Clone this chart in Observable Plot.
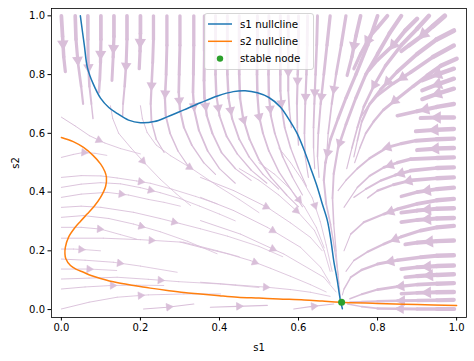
<!DOCTYPE html>
<html><head><meta charset="utf-8">
<script src="https://cdn.jsdelivr.net/npm/d3@7"></script>
<script src="https://cdn.jsdelivr.net/npm/@observablehq/plot@0.6"></script>
<style>body{margin:0;background:#fff;font-family:"DejaVu Sans",sans-serif}</style>
</head><body><div id="chart"></div>
<script>
// ---------- data ----------
const xTicks = [0, 0.2, 0.4, 0.6, 0.8, 1.0];
const yTicks = [0, 0.2, 0.4, 0.6, 0.8, 1.0];
const legendLabels = ["s1 nullcline", "s2 nullcline", "stable node"];

const s1Nullcline = [[0.048,1.0],[0.058,0.90],[0.066,0.823],[0.08,0.77],[0.099,0.72],[0.12,0.688],[0.142,0.667],[0.17,0.645],[0.2,0.636],[0.235,0.64],[0.268,0.656],[0.31,0.68],[0.352,0.704],[0.395,0.727],[0.435,0.742],[0.465,0.745],[0.496,0.738],[0.525,0.722],[0.554,0.69],[0.58,0.638],[0.597,0.598],[0.615,0.54],[0.630,0.484],[0.648,0.415],[0.66,0.36],[0.673,0.303],[0.682,0.235],[0.689,0.167],[0.698,0.10],[0.706,0.031],[0.711,0.003]];

const s2Nullcline = [[0,0.586],[0.03,0.572],[0.056,0.552],[0.08,0.525],[0.099,0.496],[0.11,0.47],[0.114,0.45],[0.112,0.42],[0.099,0.382],[0.082,0.35],[0.065,0.325],[0.048,0.3],[0.035,0.28],[0.018,0.246],[0.01,0.212],[0.009,0.19],[0.011,0.174],[0.023,0.15],[0.038,0.137],[0.056,0.127],[0.075,0.116],[0.099,0.106],[0.14,0.092],[0.183,0.082],[0.225,0.073],[0.268,0.065],[0.31,0.058],[0.352,0.053],[0.4,0.047],[0.446,0.042],[0.5,0.039],[0.55,0.036],[0.614,0.033],[0.66,0.029],[0.706,0.025],[0.8,0.021],[0.9,0.017],[1.0,0.014]];

const stableNode = [[0.709, 0.025]];

// streamlines: points in flow order, speed at start/end
const topLines = [
 {pts:[[0.0,1.0],[0.003,0.93],[0.006,0.86],[0.01,0.81]], speed:[5,4]},
 {pts:[[0.035,1.0],[0.037,0.92],[0.042,0.84],[0.05,0.76],[0.055,0.70]], speed:[5,2.5]},
 {pts:[[0.067,1.0],[0.067,0.92],[0.068,0.84],[0.071,0.76],[0.076,0.70],[0.08,0.65]], speed:[5,1.5]},
 {pts:[[0.1,1.0],[0.1,0.92],[0.099,0.84],[0.097,0.78],[0.095,0.74]], speed:[5,3]},
 {pts:[[0.133,1.0],[0.133,0.93],[0.131,0.86],[0.128,0.78]], speed:[5,3.5]},
 {pts:[[0.166,1.0],[0.166,0.92],[0.164,0.84],[0.16,0.76],[0.156,0.70],[0.155,0.66]], speed:[5,1.5]},
 {pts:[[0.2,1.0],[0.2,0.94],[0.199,0.88],[0.197,0.82]], speed:[5,4]},
 {pts:[[0.233,1.0],[0.233,0.92],[0.231,0.84],[0.228,0.76],[0.226,0.70],[0.228,0.64],[0.24,0.58],[0.26,0.535]], speed:[4.5,1.2]},
 {pts:[[0.267,1.0],[0.267,0.9],[0.265,0.8],[0.262,0.72],[0.264,0.66],[0.275,0.6],[0.295,0.54],[0.32,0.49]], speed:[4.5,1.2]},
 {pts:[[0.3,1.0],[0.3,0.9],[0.298,0.8],[0.297,0.74],[0.3,0.68],[0.31,0.62],[0.33,0.56],[0.36,0.50],[0.39,0.46]], speed:[4.5,1.2]},
 {pts:[[0.335,1.0],[0.335,0.9],[0.334,0.8],[0.333,0.74],[0.336,0.68],[0.348,0.61],[0.37,0.54],[0.40,0.48],[0.44,0.43]], speed:[4.5,1.2]},
 {pts:[[0.362,1.0],[0.362,0.88],[0.361,0.78],[0.362,0.72],[0.368,0.66],[0.382,0.6],[0.405,0.535],[0.44,0.48],[0.48,0.44]], speed:[4.5,1.2]},
 {pts:[[0.39,1.0],[0.39,0.9],[0.39,0.8],[0.392,0.73],[0.4,0.66],[0.418,0.59],[0.445,0.53],[0.48,0.475],[0.52,0.43]], speed:[4,1.2]},
 {pts:[[0.42,1.0],[0.42,0.9],[0.42,0.8],[0.423,0.72],[0.432,0.65],[0.45,0.58],[0.475,0.52],[0.51,0.46],[0.55,0.41]], speed:[4,1.2]},
 {pts:[[0.45,1.0],[0.45,0.9],[0.45,0.8],[0.452,0.72],[0.46,0.65],[0.476,0.58],[0.5,0.51],[0.53,0.45],[0.57,0.39],[0.6,0.35]], speed:[4,1.2]},
 {pts:[[0.496,1.0],[0.496,0.9],[0.495,0.8],[0.496,0.73],[0.5,0.66],[0.51,0.6],[0.525,0.54],[0.55,0.47],[0.58,0.41],[0.61,0.35]], speed:[4,1.2]},
 {pts:[[0.525,1.0],[0.525,0.9],[0.524,0.8],[0.525,0.73],[0.53,0.66],[0.54,0.6],[0.56,0.52],[0.585,0.45],[0.61,0.39]], speed:[4,1.2]},
 {pts:[[0.554,1.0],[0.554,0.9],[0.554,0.8],[0.554,0.745],[0.558,0.68],[0.565,0.62],[0.58,0.55],[0.6,0.48],[0.62,0.42]], speed:[4,1.2]},
 {pts:[[0.574,1.0],[0.574,0.9],[0.574,0.8],[0.574,0.745],[0.577,0.68],[0.582,0.62]], speed:[4,1.5]},
 {pts:[[0.6,1.0],[0.6,0.9],[0.598,0.8],[0.596,0.7],[0.597,0.62],[0.6,0.56]], speed:[4,1.5]},
 {pts:[[0.623,1.0],[0.622,0.9],[0.62,0.8],[0.617,0.7],[0.615,0.6],[0.617,0.52],[0.625,0.45]], speed:[4,1.2]},
 {pts:[[0.648,1.0],[0.646,0.9],[0.643,0.8],[0.64,0.7],[0.638,0.62],[0.638,0.55],[0.641,0.48]], speed:[4,1.2]}
];

const upperRightLines = [
 {pts:[[0.68,1.0],[0.672,0.9],[0.664,0.8],[0.656,0.7],[0.65,0.6],[0.648,0.52],[0.652,0.45]], speed:[4.5,1.2]},
 {pts:[[0.72,1.0],[0.708,0.9],[0.695,0.8],[0.684,0.7],[0.675,0.6],[0.67,0.5]], speed:[4.5,1.2]},
 {pts:[[0.757,1.0],[0.745,0.93],[0.735,0.86],[0.723,0.797]], speed:[5,4]},
 {pts:[[0.8,1.0],[0.775,0.9],[0.745,0.8],[0.72,0.72],[0.7,0.65],[0.681,0.58],[0.668,0.5],[0.664,0.44],[0.67,0.36],[0.681,0.29],[0.692,0.2],[0.7,0.12],[0.706,0.042]], speed:[5,1]},
 {pts:[[0.825,1.0],[0.8,0.96],[0.782,0.933],[0.757,0.87],[0.74,0.82]], speed:[5,4]},
 {pts:[[0.86,1.0],[0.83,0.94],[0.8,0.87],[0.77,0.8],[0.745,0.72],[0.72,0.63],[0.7,0.55],[0.689,0.462],[0.686,0.38],[0.689,0.292],[0.695,0.2],[0.702,0.088]], speed:[5.5,1]},
 {pts:[[0.9,0.99],[0.87,0.95],[0.84,0.9],[0.8,0.85],[0.778,0.815]], speed:[6,4]},
 {pts:[[0.93,1.0],[0.9,0.956],[0.86,0.9],[0.82,0.83],[0.79,0.76],[0.765,0.69],[0.749,0.62],[0.735,0.55],[0.722,0.48]], speed:[6,1.2]},
 {pts:[[0.97,1.0],[0.94,0.965],[0.91,0.93],[0.88,0.9],[0.86,0.88]], speed:[6.5,5]},
 {pts:[[0.993,0.95],[0.95,0.92],[0.9,0.87],[0.85,0.81],[0.808,0.75],[0.78,0.7],[0.76,0.64],[0.749,0.575],[0.74,0.52]], speed:[6.5,1.2]},
 {pts:[[0.993,0.899],[0.94,0.86],[0.884,0.808],[0.84,0.77],[0.8,0.729],[0.775,0.69],[0.755,0.65]], speed:[6,1.8]},
 {pts:[[1.0,0.854],[0.96,0.83],[0.926,0.797],[0.89,0.76],[0.85,0.718],[0.815,0.68],[0.79,0.64],[0.77,0.6],[0.755,0.55],[0.742,0.5]], speed:[6,1.2]}
];

const rightLines = [
 {pts:[[0.993,0.82],[0.95,0.80],[0.913,0.78]], speed:[6,5]},
 {pts:[[0.993,0.786],[0.95,0.766],[0.913,0.746]], speed:[6,5]},
 {pts:[[0.993,0.752],[0.95,0.734],[0.913,0.716]], speed:[6,5]},
 {pts:[[0.993,0.70],[0.95,0.69],[0.9,0.675],[0.85,0.66]], speed:[6,4.5]},
 {pts:[[0.993,0.654],[0.95,0.654],[0.909,0.652]], speed:[6,5]},
 {pts:[[0.993,0.615],[0.95,0.612],[0.897,0.607]], speed:[6,5]},
 {pts:[[0.993,0.582],[0.95,0.58],[0.897,0.575],[0.86,0.565],[0.825,0.552],[0.78,0.515],[0.749,0.48],[0.72,0.44],[0.7,0.405]], speed:[6,1]},
 {pts:[[0.993,0.55],[0.95,0.548],[0.9,0.543]], speed:[6,5]},
 {pts:[[0.993,0.518],[0.95,0.516],[0.884,0.512],[0.85,0.5],[0.816,0.484],[0.78,0.455],[0.749,0.416],[0.715,0.348]], speed:[6,1]},
 {pts:[[0.993,0.484],[0.95,0.482],[0.884,0.473],[0.845,0.458],[0.808,0.439],[0.77,0.41],[0.74,0.382]], speed:[6,1.2]},
 {pts:[[0.993,0.45],[0.95,0.447],[0.884,0.44],[0.84,0.425],[0.8,0.405],[0.775,0.38]], speed:[6,1.5]},
 {pts:[[0.993,0.415],[0.95,0.41],[0.9,0.4],[0.86,0.385]], speed:[6,4]},
 {pts:[[0.993,0.377],[0.95,0.372],[0.9,0.36],[0.85,0.342],[0.816,0.325],[0.765,0.297],[0.732,0.257],[0.715,0.2]], speed:[6,1]},
 {pts:[[0.993,0.345],[0.95,0.343],[0.9,0.337],[0.86,0.33]], speed:[6,4.5]},
 {pts:[[0.993,0.312],[0.95,0.31],[0.9,0.305],[0.86,0.298]], speed:[6,4.5]},
 {pts:[[0.993,0.285],[0.95,0.28],[0.909,0.269],[0.86,0.248],[0.816,0.223],[0.775,0.197],[0.74,0.167],[0.72,0.13]], speed:[6,1]},
 {pts:[[0.993,0.235],[0.95,0.233],[0.9,0.228],[0.87,0.222]], speed:[6,4.5]},
 {pts:[[0.993,0.185],[0.95,0.183],[0.909,0.178],[0.85,0.168],[0.8,0.155],[0.76,0.135],[0.732,0.11],[0.715,0.07],[0.711,0.05]], speed:[6,1]},
 {pts:[[0.993,0.15],[0.95,0.148],[0.9,0.144],[0.86,0.138]], speed:[6,4.5]},
 {pts:[[0.993,0.12],[0.95,0.118],[0.9,0.114],[0.87,0.11]], speed:[6,4.5]},
 {pts:[[0.993,0.09],[0.95,0.088],[0.9,0.085],[0.85,0.078],[0.8,0.068],[0.76,0.052],[0.73,0.037]], speed:[6,1.5]},
 {pts:[[0.993,0.06],[0.95,0.059],[0.9,0.057],[0.86,0.054]], speed:[6,4]},
 {pts:[[0.993,0.033],[0.95,0.032],[0.9,0.031],[0.85,0.03],[0.8,0.028],[0.76,0.027],[0.73,0.026]], speed:[5.5,1.5]},
 {pts:[[0.994,0.002],[0.95,0.002],[0.9,0.002],[0.85,0.003],[0.8,0.004],[0.76,0.01],[0.724,0.019]], speed:[5.5,1.5]}
];

const centerLines = [
 {pts:[[0.124,0.694],[0.13,0.65],[0.145,0.6],[0.175,0.552],[0.21,0.5],[0.25,0.444],[0.29,0.395],[0.327,0.354]], speed:[1.2,1]},
 {pts:[[0.2,0.694],[0.205,0.65],[0.217,0.603],[0.24,0.56],[0.276,0.524],[0.33,0.48],[0.394,0.422],[0.45,0.375],[0.5,0.33]], speed:[1.2,1]},
 {pts:[[0.352,0.45],[0.436,0.405],[0.521,0.348],[0.58,0.295],[0.63,0.246],[0.66,0.2]], speed:[1.2,1]},
 {pts:[[0.352,0.382],[0.436,0.337],[0.521,0.28],[0.605,0.212],[0.656,0.144],[0.68,0.09]], speed:[1.2,1]},
 {pts:[[0.352,0.303],[0.453,0.257],[0.563,0.189],[0.664,0.11],[0.695,0.06]], speed:[1.2,1]},
 {pts:[[0.3,0.23],[0.352,0.212],[0.42,0.19],[0.478,0.167],[0.53,0.14],[0.58,0.113],[0.63,0.085],[0.67,0.06]], speed:[1.2,1]},
 {pts:[[0.352,0.093],[0.44,0.084],[0.521,0.076],[0.58,0.068],[0.63,0.059],[0.68,0.045]], speed:[1.2,1]},
 {pts:[[0.45,0.48],[0.5,0.44],[0.55,0.39],[0.6,0.33],[0.64,0.27],[0.665,0.2],[0.68,0.13]], speed:[1.2,1]},
 {pts:[[0.5,0.50],[0.54,0.46],[0.58,0.41],[0.615,0.35],[0.645,0.28],[0.665,0.21]], speed:[1.2,1]},
 {pts:[[0.55,0.55],[0.58,0.5],[0.61,0.44],[0.635,0.38],[0.655,0.3],[0.67,0.22],[0.685,0.13]], speed:[1.2,1]}
];

const leftLines = [
 {pts:[[0,0.655],[0.035,0.625],[0.071,0.592],[0.11,0.567],[0.15,0.548],[0.2,0.53]], speed:[1.3,1]},
 {pts:[[0,0.518],[0.03,0.528],[0.056,0.535],[0.085,0.532],[0.115,0.525]], speed:[1.2,1]},
 {pts:[[0,0.45],[0.05,0.456],[0.1,0.455],[0.141,0.448],[0.19,0.438],[0.225,0.43],[0.28,0.41],[0.34,0.385],[0.394,0.36]], speed:[1.2,1]},
 {pts:[[0,0.416],[0.05,0.427],[0.1,0.432],[0.15,0.428],[0.2,0.415],[0.25,0.398],[0.3,0.378],[0.35,0.352],[0.4,0.325],[0.44,0.302]], speed:[1.2,1]},
 {pts:[[0,0.382],[0.05,0.393],[0.116,0.399],[0.17,0.39],[0.22,0.375],[0.26,0.365],[0.301,0.352]], speed:[1.2,1]},
 {pts:[[0,0.348],[0.05,0.352],[0.1,0.348],[0.183,0.331],[0.25,0.31],[0.3,0.293],[0.352,0.275],[0.42,0.25],[0.5,0.215],[0.56,0.18]], speed:[1.2,1]},
 {pts:[[0,0.314],[0.056,0.32],[0.12,0.31],[0.183,0.291],[0.25,0.265],[0.32,0.232],[0.394,0.19]], speed:[1.2,1]},
 {pts:[[0,0.28],[0.05,0.28],[0.099,0.274],[0.15,0.255],[0.19,0.24]], speed:[1.2,1]},
 {pts:[[0,0.243],[0.106,0.243],[0.2,0.238],[0.31,0.229],[0.395,0.2],[0.45,0.18]], speed:[1.2,1]},
 {pts:[[0,0.206],[0.031,0.206],[0.06,0.204],[0.099,0.2]], speed:[1.2,1]},
 {pts:[[0,0.172],[0.06,0.168],[0.132,0.161],[0.2,0.148],[0.293,0.127]], speed:[1.2,1]},
 {pts:[[0,0.138],[0.07,0.138],[0.14,0.133]], speed:[1.2,1]},
 {pts:[[0,0.104],[0.07,0.107],[0.141,0.11],[0.22,0.103],[0.297,0.095],[0.403,0.087],[0.5,0.075]], speed:[1.2,1]},
 {pts:[[0,0.07],[0.06,0.077],[0.128,0.082],[0.19,0.083],[0.259,0.082]], speed:[1.2,1]},
 {pts:[[0,0.002],[0.07,0.025],[0.141,0.042],[0.22,0.05],[0.31,0.053],[0.403,0.053]], speed:[1.2,1]}
];

const bottomLines = [
 {pts:[[0.208,0.002],[0.268,0.008],[0.335,0.019]], speed:[1.5,1.5]},
 {pts:[[0.377,0.008],[0.445,0.011],[0.521,0.014]], speed:[1.5,1.5]},
 {pts:[[0.588,0.002],[0.63,0.01],[0.689,0.019]], speed:[1.5,1.5]}
];

// ---------- layout ----------
const W = 474, H = 361;
const mL = 51, mR = 8, mT = 8, mB = 44;
const xDom = [-0.025, 1.025], yDom = [-0.027, 1.025];
const kx = (W - mL - mR) / (xDom[1] - xDom[0]);
const ky = (H - mT - mB) / (yDom[1] - yDom[0]);
const STREAM = "#d9bfd9";
const WSCALE = 0.78;

const allLines = [...topLines, ...upperRightLines, ...rightLines, ...centerLines, ...leftLines, ...bottomLines];
const segs = [], arrows = [];
allLines.forEach((ln) => {
  const p = ln.pts, n = p.length;
  const wAt = t => ln.speed[0] + (ln.speed[1] - ln.speed[0]) * t;
  const cum = [0];
  for (let i = 0; i < n - 1; i++) {
    segs.push({x1: p[i][0], y1: p[i][1], x2: p[i+1][0], y2: p[i+1][1], w: wAt((i + 0.5) / (n - 1))});
    const dx = (p[i+1][0] - p[i][0]) * kx, dy = (p[i+1][1] - p[i][1]) * ky;
    cum.push(cum[i] + Math.hypot(dx, dy));
  }
  const half = cum[n - 1] / 2;
  let j = 0; while (j < n - 2 && cum[j + 1] < half) j++;
  const f = (half - cum[j]) / (cum[j + 1] - cum[j] || 1);
  const ax = p[j][0] + f * (p[j+1][0] - p[j][0]);
  const ay = p[j][1] + f * (p[j+1][1] - p[j][1]);
  const sdx = (p[j+1][0] - p[j][0]) * kx, sdy = -(p[j+1][1] - p[j][1]) * ky;
  arrows.push({x: ax, y: ay, rot: Math.atan2(sdx, -sdy) * 180 / Math.PI, w: wAt((j + f) / (n - 1))});
});

const chart = Plot.plot({
  width: W, height: H,
  marginLeft: mL, marginRight: mR, marginTop: mT, marginBottom: mB,
  style: {fontFamily: "DejaVu Sans", fontSize: "10px", color: "black", background: "white"},
  x: {domain: xDom},
  y: {domain: yDom},
  marks: [
    Plot.link(segs, {x1: "x1", y1: "y1", x2: "x2", y2: "y2", stroke: STREAM, strokeWidth: d => d.w * WSCALE, strokeLinecap: "round"}),
    Plot.dot(arrows, {x: "x", y: "y", rotate: "rot", symbol: "triangle", r: 2.8, fill: STREAM, stroke: STREAM, strokeWidth: d => d.w * 0.5, strokeLinejoin: "miter"}),
    Plot.line(s1Nullcline, {x: d => d[0], y: d => d[1], stroke: "#1f77b4", strokeWidth: 1.5, curve: "catmull-rom"}),
    Plot.line(s2Nullcline, {x: d => d[0], y: d => d[1], stroke: "#ff7f0e", strokeWidth: 1.5, curve: "catmull-rom"}),
    Plot.dot(stableNode, {x: d => d[0], y: d => d[1], r: 3.5, fill: "#2ca02c", stroke: "none"}),
    Plot.axisX(xTicks, {tickFormat: d3.format(".1f"), tickSize: 3.5, tickPadding: 3, fontSize: 10, label: "s1", labelAnchor: "center", labelArrow: "none", labelOffset: 33}),
    Plot.axisY(yTicks, {tickFormat: d3.format(".1f"), tickSize: 3.5, tickPadding: 3, fontSize: 10, label: "s2", labelAnchor: "center", labelArrow: "none", labelOffset: 40}),
    Plot.frame({stroke: "black", strokeWidth: 0.8})
  ]
});

// legend (matplotlib-style box in upper right)
const svg = d3.select(chart);
const lg = svg.append("g").attr("font-family", "DejaVu Sans").attr("font-size", 10.3).attr("text-anchor", "start");
lg.append("rect").attr("x", 204.5).attr("y", 13.5).attr("width", 109).attr("height", 56).attr("rx", 2.5)
  .attr("fill", "white").attr("fill-opacity", 0.8).attr("stroke", "#cccccc").attr("stroke-width", 0.8);
const legendColors = ["#1f77b4", "#ff7f0e", "#2ca02c"];
legendLabels.forEach((t, i) => {
  const yy = 24 + i * 17.3;
  if (i < 2) lg.append("line").attr("x1", 208).attr("x2", 232).attr("y1", yy).attr("y2", yy).attr("stroke", legendColors[i]).attr("stroke-width", 1.5);
  else lg.append("circle").attr("cx", 220).attr("cy", yy).attr("r", 3.2).attr("fill", legendColors[i]);
  lg.append("text").attr("x", 240).attr("y", yy).attr("dy", "0.35em").attr("text-anchor", "start").attr("fill", "black").text(t);
});
document.getElementById("chart").append(chart);
</script></body></html>
